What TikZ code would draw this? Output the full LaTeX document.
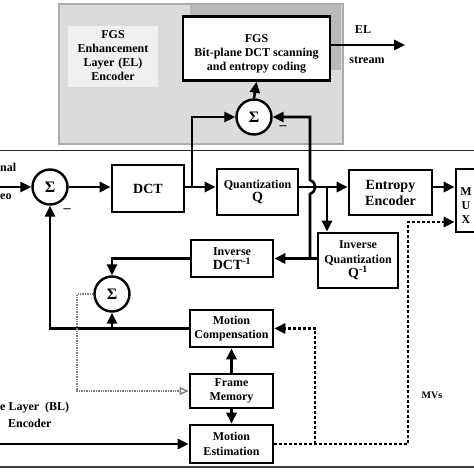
\documentclass[tikz,border=0pt]{standalone}
\usepackage{fontspec}
\setmainfont{Liberation Serif}
\usetikzlibrary{arrows.meta}
\begin{document}
\begin{tikzpicture}[x=1pt,y=-1pt,
 blk/.style={draw, line width=2.6pt, fill=white, align=center, inner sep=0pt, font=\bfseries\fontsize{12}{14.5}\selectfont},
 big/.style={font=\bfseries\fontsize{14}{16}\selectfont},
 sig/.style={draw, circle, line width=2.4pt, fill=white, minimum size=35pt, inner sep=0pt, font=\bfseries\fontsize{16}{16}\selectfont},
 arr/.style={line width=2.6pt, -{Triangle[length=11pt,width=10pt]}},
 ln/.style={line width=2.6pt},
 dotarr/.style={line width=2.8pt, dash pattern=on 2.6pt off 2.4pt, -{Triangle[length=11pt,width=10pt]}},
 grayarr/.style={gray, line width=1.4pt, densely dotted, -{Triangle[open,length=9pt,width=8pt]}},
 lbl/.style={font=\bfseries\fontsize{12}{14}\selectfont, inner sep=0pt, align=center},
 minus/.style={font=\bfseries\fontsize{14}{14}\selectfont, inner sep=0pt},
 frame/.style={line width=1.6pt, black!85}
]
\useasboundingbox (0,0) rectangle (474,474);
% enhancement layer area
\node[draw=gray!65, fill=gray!28, line width=1.8pt, minimum width=284pt, minimum height=140pt, inner sep=0pt] (elarea) at (201,74) {};
\node[fill=gray!12, lbl, minimum width=90pt, minimum height=61pt, text width=90pt] (eltext) at (113,56) {FGS\\Enhancement\\Layer (EL)\\Encoder};
\node[fill=gray!55, minimum width=151pt, minimum height=65pt, inner sep=0pt] (shadow) at (265.5,37.5) {};
\node[blk, minimum width=147pt, minimum height=64pt] (fgs) at (256.5,48.5) {};
\node[lbl] (fgst) at (256.5,53.5) {FGS\\Bit-plane DCT scanning\\and entropy coding};
% base layer frame lines
\coordinate (ft1) at (0,150.5); \coordinate (ft2) at (474,150.5);
\coordinate (fb1) at (0,467); \coordinate (fb2) at (474,467);
\draw[frame] (ft1) -- (ft2);
\draw[frame, line width=2.2pt, black!75] (fb1) -- (fb2);
% sums
\node[sig] (s1) at (50,187) {Σ};
\node[sig] (s2) at (112,294) {Σ};
\node[sig] (s3) at (254,117) {Σ};
\node[minus] (m1) at (67,211) {–};
\node[minus] (m3) at (283,128) {–};
% blocks
\node[blk, big, minimum width=72pt, minimum height=47pt] (dct) at (148,188.5) {DCT};
\node[blk, minimum width=81pt, minimum height=46pt] (q) at (257.5,192) {Quantization\\[-1pt]{\fontsize{14}{14}\selectfont Q}};
\node[blk, big, minimum width=83pt, minimum height=45pt] (ent) at (390.5,192.5) {Entropy\\Encoder};
\node[blk, minimum width=34pt, minimum height=63pt] (mux) at (473,200.5) {};
\node[lbl] (muxt) at (466,206) {M\\U\\X};
\node[blk, minimum width=80pt, minimum height=55pt] (iq) at (358,260.5) {Inverse\\Quantization\\{\fontsize{14}{14}\selectfont Q\textsuperscript{-1}}};
\node[blk, minimum width=82pt, minimum height=37pt] (idct) at (232,258.5) {Inverse\\{\fontsize{14}{14}\selectfont DCT\textsuperscript{-1}}};
\node[blk, minimum width=83pt, minimum height=37pt] (mc) at (231.5,328.5) {Motion\\Compensation};
\node[blk, minimum width=83pt, minimum height=34pt] (fm) at (231.5,391) {Frame\\Memory};
\node[blk, minimum width=83pt, minimum height=38pt] (me) at (231.5,444) {Motion\\Estimation};
% labels
\node[lbl] (lel) at (363,30) {EL};
\node[lbl] (lstream) at (367,60) {stream};
\node[lbl, font=\bfseries\fontsize{10}{12}\selectfont] (lmv) at (432,395) {MVs};
\node[lbl, anchor=west] (lnal) at (0,167) {nal};
\node[lbl, anchor=west] (leo) at (0,197) {eo};
\node[lbl, anchor=west] (lbl1) at (0,408) {e Layer\ \ (BL)};
\node[lbl, anchor=west] (lbl2) at (8,423) {Encoder};
% connectors
\coordinate (in1) at (0,187);
\coordinate (in2) at (0,444);
\coordinate (b1) at (192,187);
\coordinate (b2) at (327,187);
\coordinate (hb) at (310,194);
\coordinate (ht) at (310,180);
\coordinate (j) at (310,258.5);
\coordinate (g) at (77,294);
\coordinate (d1) at (315,444);
\coordinate (d2) at (408,444);
\coordinate (d3) at (408,222);
\coordinate (elend) at (405,45);
\draw[arr] (in1) -- (s1);
\draw[arr] (s1) -- (dct.west |- s1);
\draw[arr] (dct.east |- s1) -- (q.west |- s1);
\draw[arr] (b1) |- (s3.west);
\draw[arr] (q.east |- s1) -- (ent.west |- s1);
\draw[arr] (b2) -- (iq.north -| b2);
\draw[arr] (ent.east |- s1) -- (mux.west |- s1);
\draw[arr] (j) -- (hb) .. controls (317,191) and (317,183) .. (ht) |- (s3.east);
\draw[arr] (s3.north) -- (fgs.south);
\draw[arr] (fgs.east |- elend) -- (elend);
\draw[arr] (iq.west |- idct) -- (idct.east);
\draw[arr] (idct.west) -| (s2.north);
\draw[arr] (mc.west) -| (s1.south);
\draw[arr] (s2.south |- mc.west) -- (s2.south);
\draw[grayarr] (s2.west) -- (g) |- (fm.west);
\draw[arr] (fm.north) -- (mc.south);
\draw[arr] (fm.south) -- (me.north);
\draw[arr] (in2) -- (me.west);
\draw[dotarr] (me.east) -- (d2) -- (d3) -- (mux.west |- d3);
\draw[dotarr] (d1) |- (mc.east);
\end{tikzpicture}
\end{document}
